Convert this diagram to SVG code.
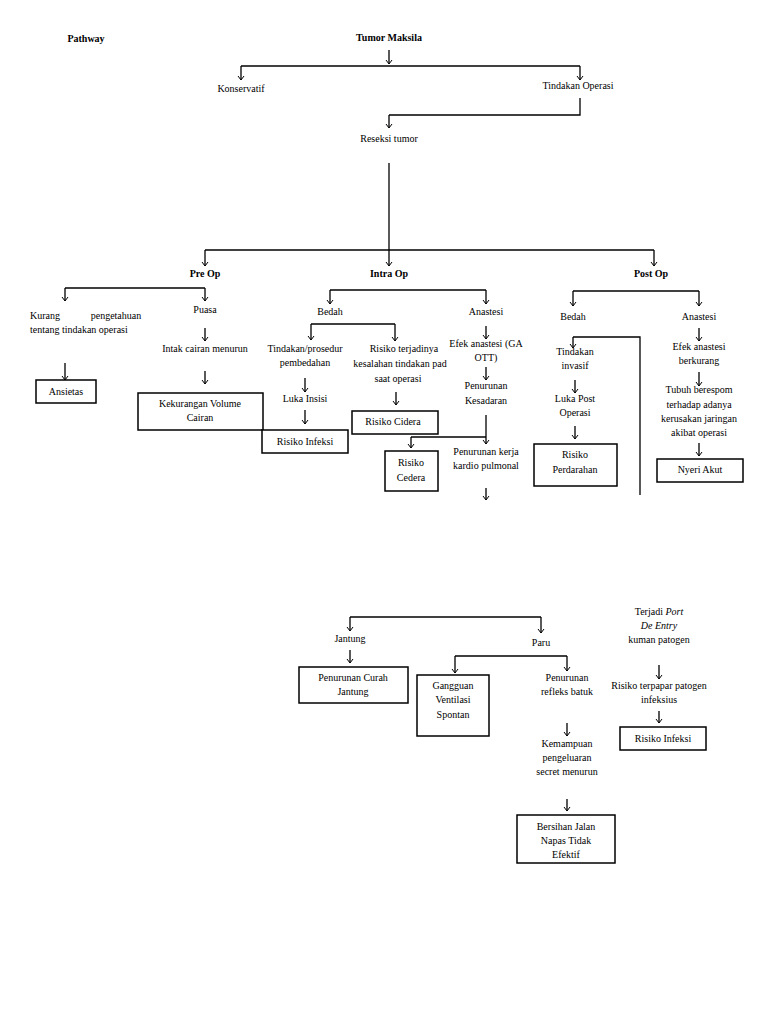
<svg xmlns="http://www.w3.org/2000/svg" width="768" height="1024" viewBox="0 0 768 1024">
<defs>
<marker id="a" markerWidth="8" markerHeight="8" refX="7" refY="4" orient="auto" markerUnits="userSpaceOnUse"><path d="M3,1 L7,4 L3,7" fill="none" stroke="#000" stroke-width="1"/></marker>
<style>
text{font-family:"Liberation Serif",serif;font-size:10px;fill:#000;text-anchor:middle}
.b{font-weight:bold}
.l{text-anchor:start}
.c line,.c polyline{stroke:#000;stroke-width:1.3;fill:none}
.ar{marker-end:url(#a)}
rect{fill:#fff;stroke:#000;stroke-width:1.5}
</style>
</defs>
<rect x="0" y="0" width="768" height="1024" style="stroke:none"/>
<g class="c">
<line class="ar" x1="389" y1="50" x2="389" y2="64"/>
<line x1="241" y1="66" x2="580" y2="66"/>
<line class="ar" x1="241" y1="66" x2="241" y2="80"/>
<line class="ar" x1="580" y1="66" x2="580" y2="80"/>
<polyline points="580,98 580,115 389,115"/>
<line class="ar" x1="389" y1="115" x2="389" y2="128"/>
<line x1="389" y1="163" x2="389" y2="250"/>
<line x1="205" y1="250" x2="654" y2="250"/>
<line class="ar" x1="205" y1="250" x2="205" y2="266"/>
<line class="ar" x1="389" y1="250" x2="389" y2="266"/>
<line class="ar" x1="654" y1="250" x2="654" y2="266"/>
<line x1="65" y1="288" x2="205" y2="288"/>
<line class="ar" x1="65" y1="288" x2="65" y2="301"/>
<line class="ar" x1="205" y1="288" x2="205" y2="301"/>
<line class="ar" x1="205" y1="328" x2="205" y2="341"/>
<line class="ar" x1="205" y1="371" x2="205" y2="384"/>
<line class="ar" x1="65" y1="363" x2="65" y2="380"/>
<line x1="330" y1="290" x2="486" y2="290"/>
<line class="ar" x1="330" y1="290" x2="330" y2="304"/>
<line class="ar" x1="486" y1="290" x2="486" y2="304"/>
<line x1="311" y1="324" x2="395" y2="324"/>
<line class="ar" x1="311" y1="324" x2="311" y2="340"/>
<line class="ar" x1="395" y1="324" x2="395" y2="341"/>
<line class="ar" x1="305" y1="378" x2="305" y2="392"/>
<line class="ar" x1="305" y1="410" x2="305" y2="424"/>
<line class="ar" x1="396" y1="392" x2="396" y2="405"/>
<line class="ar" x1="486" y1="326" x2="486" y2="339"/>
<line class="ar" x1="486" y1="367" x2="486" y2="380"/>
<line class="ar" x1="486" y1="415" x2="486" y2="444"/>
<line x1="411" y1="437" x2="486" y2="437"/>
<line class="ar" x1="411" y1="437" x2="411" y2="448"/>
<line class="ar" x1="486" y1="488" x2="486" y2="500"/>
<line x1="573" y1="291" x2="699" y2="291"/>
<line class="ar" x1="573" y1="291" x2="573" y2="306"/>
<line class="ar" x1="699" y1="291" x2="699" y2="306"/>
<polyline points="640,495 640,337 573,337"/>
<line class="ar" x1="573" y1="337" x2="573" y2="348"/>
<line class="ar" x1="575" y1="380" x2="575" y2="393"/>
<line class="ar" x1="575" y1="426" x2="575" y2="439"/>
<line class="ar" x1="699" y1="328" x2="699" y2="341"/>
<line class="ar" x1="699" y1="372" x2="699" y2="386"/>
<line class="ar" x1="699" y1="443" x2="699" y2="456"/>
<line x1="350" y1="617" x2="541" y2="617"/>
<line class="ar" x1="350" y1="617" x2="350" y2="631"/>
<line class="ar" x1="541" y1="617" x2="541" y2="633"/>
<line class="ar" x1="350" y1="650" x2="350" y2="663"/>
<line x1="455" y1="656" x2="567" y2="656"/>
<line class="ar" x1="455" y1="656" x2="455" y2="673"/>
<line class="ar" x1="567" y1="656" x2="567" y2="671"/>
<line class="ar" x1="567" y1="723" x2="567" y2="736"/>
<line class="ar" x1="567" y1="799" x2="567" y2="811"/>
<line class="ar" x1="659" y1="665" x2="659" y2="679"/>
<line class="ar" x1="659" y1="711" x2="659" y2="723"/>
</g>
<g id="pathway"><text class="b" x="86" y="42">Pathway</text></g>
<g id="tumor"><text class="b" x="389" y="41">Tumor Maksila</text></g>
<g id="konservatif"><text x="241" y="92">Konservatif</text></g>
<g id="tindakan-operasi"><text x="578" y="89">Tindakan Operasi</text></g>
<g id="reseksi"><text x="389" y="142">Reseksi tumor</text></g>
<g id="preop"><text class="b" x="205" y="277">Pre Op</text></g>
<g id="intraop"><text class="b" x="389" y="277">Intra Op</text></g>
<g id="postop"><text class="b" x="651" y="277">Post Op</text></g>
<g id="kurang"><text class="l" x="30" y="319">Kurang</text><text x="116" y="319">pengetahuan</text><text class="l" x="30" y="333">tentang tindakan operasi</text></g>
<g id="ansietas"><rect x="36" y="380" width="60" height="23"/><text x="66" y="395">Ansietas</text></g>
<g id="puasa"><text x="205" y="313">Puasa</text></g>
<g id="intak"><text x="205" y="352">Intak cairan menurun</text></g>
<g id="kvc"><rect x="138" y="393" width="125" height="37"/><text x="200" y="407">Kekurangan Volume</text><text x="200" y="421">Cairan</text></g>
<g id="bedah1"><text x="330" y="315">Bedah</text></g>
<g id="tindakan-prosedur"><text x="305" y="352">Tindakan/prosedur</text><text x="305" y="366">pembedahan</text></g>
<g id="luka-insisi"><text x="305" y="402">Luka Insisi</text></g>
<g id="risiko-infeksi1"><rect x="262" y="430" width="86" height="23"/><text x="305" y="445">Risiko Infeksi</text></g>
<g id="risiko-terjadinya"><text x="404" y="352">Risiko terjadinya</text><text x="400" y="367">kesalahan tindakan pad</text><text x="398" y="382">saat operasi</text></g>
<g id="risiko-cidera"><rect x="352" y="411" width="86" height="23"/><text x="393" y="425">Risiko Cidera</text></g>
<g id="anastesi1"><text x="486" y="315">Anastesi</text></g>
<g id="efek-ga"><text x="486" y="347">Efek anastesi (GA</text><text x="486" y="361">OTT)</text></g>
<g id="penurunan-kesadaran"><text x="486" y="389">Penurunan</text><text x="486" y="404">Kesadaran</text></g>
<g id="risiko-cedera"><rect x="385" y="451" width="53" height="40"/><text x="411" y="466">Risiko</text><text x="411" y="481">Cedera</text></g>
<g id="kardio"><text x="486" y="455">Penurunan kerja</text><text x="486" y="469">kardio pulmonal</text></g>
<g id="bedah2"><text x="573" y="320">Bedah</text></g>
<g id="invasif"><text x="575" y="355">Tindakan</text><text x="575" y="369">invasif</text></g>
<g id="luka-post"><text x="575" y="402">Luka Post</text><text x="575" y="416">Operasi</text></g>
<g id="perdarahan"><rect x="534" y="444" width="83" height="42"/><text x="575" y="458">Risiko</text><text x="575" y="473">Perdarahan</text></g>
<g id="anastesi2"><text x="699" y="320">Anastesi</text></g>
<g id="efek-berkurang"><text x="699" y="350">Efek anastesi</text><text x="699" y="364">berkurang</text></g>
<g id="tubuh"><text x="699" y="393">Tubuh berespom</text><text x="699" y="408">terhadap adanya</text><text x="699" y="422">kerusakan jaringan</text><text x="699" y="436">akibat operasi</text></g>
<g id="nyeri"><rect x="657" y="459" width="86" height="23"/><text x="700" y="473">Nyeri Akut</text></g>
<g id="jantung"><text x="350" y="642">Jantung</text></g>
<g id="curah"><rect x="299" y="667" width="109" height="36"/><text x="353" y="681">Penurunan Curah</text><text x="353" y="695">Jantung</text></g>
<g id="paru"><text x="541" y="646">Paru</text></g>
<g id="ventilasi"><rect x="417" y="675" width="72" height="61"/><text x="453" y="689">Gangguan</text><text x="453" y="703">Ventilasi</text><text x="453" y="718">Spontan</text></g>
<g id="refleks"><text x="567" y="681">Penurunan</text><text x="567" y="695">refleks batuk</text></g>
<g id="kemampuan"><text x="567" y="747">Kemampuan</text><text x="567" y="761">pengeluaran</text><text x="567" y="775">secret menurun</text></g>
<g id="bersihan"><rect x="517" y="815" width="98" height="48"/><text x="566" y="830">Bersihan Jalan</text><text x="566" y="844">Napas Tidak</text><text x="566" y="858">Efektif</text></g>
<g id="port"><text x="659" y="615">Terjadi <tspan font-style="italic">Port</tspan></text><text x="659" y="629" font-style="italic">De Entry</text><text x="659" y="643">kuman patogen</text></g>
<g id="terpapar"><text x="659" y="689">Risiko terpapar patogen</text><text x="659" y="703">infeksius</text></g>
<g id="risiko-infeksi2"><rect x="620" y="727" width="86" height="23"/><text x="663" y="742">Risiko Infeksi</text></g>
</svg>
